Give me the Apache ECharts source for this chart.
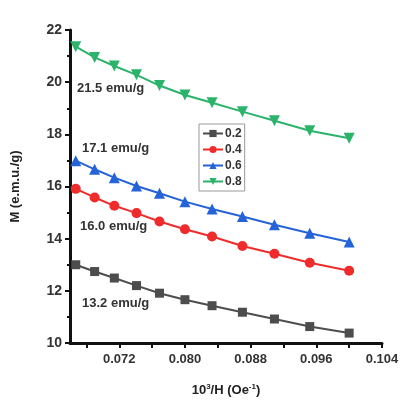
<!DOCTYPE html>
<html>
<head>
<meta charset="utf-8">
<script src="https://cdn.jsdelivr.net/npm/echarts@6/dist/echarts.min.js"></script>
<style>
  html, body { margin: 0; padding: 0; background: #fff; }
  #chart { width: 415px; height: 411px; }
</style>
</head>
<body>
<div id="chart"></div>
<script>
// 10^3/H values (Oe^-1)
const xValues = [0.0667, 0.0690, 0.0714, 0.0741, 0.0769, 0.0800, 0.0833, 0.0870, 0.0909, 0.0952, 0.1000]

const m02 = [13.00, 12.74, 12.49, 12.20, 11.91, 11.66, 11.43, 11.18, 10.92, 10.63, 10.38]
const m04 = [15.91, 15.58, 15.26, 14.98, 14.66, 14.36, 14.08, 13.72, 13.42, 13.08, 12.77]
const m06 = [16.99, 16.66, 16.34, 16.02, 15.74, 15.42, 15.14, 14.85, 14.53, 14.21, 13.87]
const m08 = [21.36, 20.95, 20.62, 20.28, 19.87, 19.51, 19.21, 18.87, 18.52, 18.14, 17.85]

const seriesNames = ['0.2', '0.4', '0.6', '0.8']
const xTickLabels = [0.072, 0.080, 0.088, 0.096, 0.104]
const xTicks = [0.068, 0.072, 0.076, 0.080, 0.084, 0.088, 0.092, 0.096, 0.100, 0.104]
const notes = ['21.5 emu/g', '17.1 emu/g', '16.0 emu/g', '13.2 emu/g']

const font = 'Liberation Sans, Arial, sans-serif'
const pair = arr => arr.map((v, i) => [xValues[i], v])

const chart = echarts.init(document.getElementById('chart'))

const makeSeries = (name, data, color, symbol, size, rotate) => ({
  name: name,
  type: 'line',
  data: pair(data),
  symbol: symbol,
  symbolSize: size,
  symbolRotate: rotate || 0,
  lineStyle: { color: color, width: 2 },
  itemStyle: { color: color },
  animation: false
})

const option = {
  backgroundColor: '#fff',
  grid: { left: 70, right: 33, top: 30, bottom: 68 },
  legend: {
    orient: 'vertical',
    left: 199,
    top: 124,
    data: seriesNames,
    itemWidth: 20,
    itemHeight: 9,
    itemGap: 3,
    padding: [3, 3, 3, 3],
    borderColor: '#999',
    borderWidth: 1,
    textStyle: { fontFamily: font, fontSize: 12, lineHeight: 13, fontWeight: 'bold', color: '#333', padding: [0, 0, 0, -3] }
  },
  xAxis: {
    type: 'value',
    min: 0.066,
    max: 0.104,
    name: '10{sup|3}/H (Oe{sup|-1})',
    nameLocation: 'middle',
    nameGap: 40,
    nameTextStyle: {
      fontFamily: font, fontSize: 13, fontWeight: 'bold', color: '#222',
      rich: { sup: { fontFamily: font, fontSize: 8, fontWeight: 'bold', verticalAlign: 'top', padding: [0, 0, 6, 0] } }
    },
    splitLine: { show: false },
    axisLine: { lineStyle: { color: '#111', width: 3 } },
    axisTick: { customValues: xTicks, length: 5, lineStyle: { color: '#111', width: 2 } },
    axisLabel: {
      customValues: xTickLabels,
      formatter: v => v.toFixed(3),
      fontFamily: font, fontSize: 13, fontWeight: 'bold', color: '#333', margin: 10
    }
  },
  yAxis: {
    type: 'value',
    min: 10,
    max: 22,
    interval: 2,
    name: 'M (e.m.u./g)',
    nameLocation: 'middle',
    nameGap: 48,
    nameTextStyle: { fontFamily: font, fontSize: 13, fontWeight: 'bold', color: '#222' },
    splitLine: { show: false },
    axisLine: { show: true, lineStyle: { color: '#111', width: 3 } },
    axisTick: { show: true, length: 5, lineStyle: { color: '#111', width: 2 } },
    minorTick: { show: true, splitNumber: 2, length: 3, lineStyle: { color: '#111', width: 2 } },
    axisLabel: { fontFamily: font, fontSize: 14, fontWeight: 'bold', color: '#333', margin: 8 }
  },
  graphic: [
    { type: 'text', left: 77, top: 82, style: { text: notes[0], fontFamily: font, fontSize: 13, fontWeight: 'bold', fill: '#333' } },
    { type: 'text', left: 82, top: 142, style: { text: notes[1], fontFamily: font, fontSize: 13, fontWeight: 'bold', fill: '#333' } },
    { type: 'text', left: 80, top: 220, style: { text: notes[2], fontFamily: font, fontSize: 13, fontWeight: 'bold', fill: '#333' } },
    { type: 'text', left: 82, top: 297, style: { text: notes[3], fontFamily: font, fontSize: 13, fontWeight: 'bold', fill: '#333' } }
  ],
  series: [
    makeSeries(seriesNames[0], m02, '#4d4d4d', 'rect', 9),
    makeSeries(seriesNames[1], m04, '#f02b2b', 'circle', 10),
    makeSeries(seriesNames[2], m06, '#2563d9', 'triangle', 11),
    makeSeries(seriesNames[3], m08, '#2bb36b', 'triangle', 11, 180)
  ]
}

chart.setOption(option)
</script>
</body>
</html>
